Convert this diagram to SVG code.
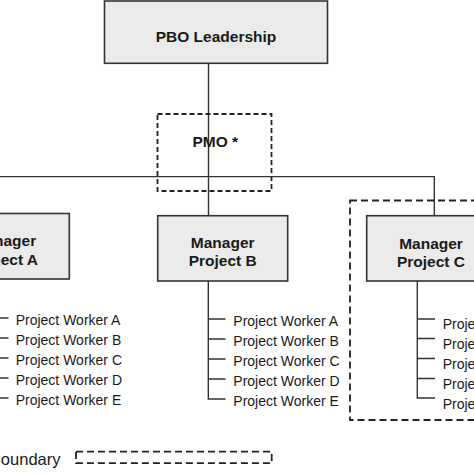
<svg xmlns="http://www.w3.org/2000/svg" width="474" height="474" viewBox="0 0 474 474">
<style>
.box{fill:#ebebeb;stroke:#333;stroke-width:1.6}
.dash{fill:none;stroke:#222;stroke-width:1.8}
.ln{stroke:#333;stroke-width:1.4;fill:none}
.tl{font-family:"Liberation Sans",Arial,sans-serif;font-weight:bold;font-size:15.5px;fill:#1a1a1a;text-anchor:middle}
.wk{font-family:"Liberation Sans",Arial,sans-serif;font-size:14px;fill:#1a1a1a}
</style>
<rect width="474" height="474" fill="#fff"/>
<g id="connectors">
<path class="ln" d="M208.5 63.3V215.7M0 176.6H434.3V215.7"/>
<path class="ln" d="M-10 318H8.5M-10 338H8.5M-10 358H8.5M-10 378H8.5M-10 398H8.5"/>
<path class="ln" d="M208.3 281V399H225.5M208.3 319H225.5M208.3 339H225.5M208.3 359H225.5M208.3 379H225.5"/>
<path class="ln" d="M417.3 281V398H435M417.3 319H435M417.3 338.5H435M417.3 358.5H435M417.3 378.5H435"/>
</g>
<g id="boundary-c"><rect class="dash" x="350" y="200.5" width="200" height="219.5" stroke-dasharray="7 4" stroke-width="2"/></g>
<g id="pbo-leadership">
<rect class="box" x="104.5" y="1" width="223" height="62.3"/>
<text class="tl" x="216" y="42.3">PBO Leadership</text>
</g>
<g id="pmo">
<rect class="dash" x="157.5" y="114" width="114" height="77" stroke-dasharray="5 3"/>
<text class="tl" x="215.3" y="146.7">PMO *</text>
</g>
<g id="manager-a">
<rect class="box" x="-61" y="213.5" width="130.3" height="65.5"/>
<text class="tl" x="4.3" y="246">Manager</text>
<text class="tl" x="4.3" y="264.5">Project A</text>
</g>
<g id="manager-b">
<rect class="box" x="157.7" y="215.7" width="130" height="65.3"/>
<text class="tl" x="222.7" y="247.5">Manager</text>
<text class="tl" x="222.7" y="265.5">Project B</text>
</g>
<g id="manager-c">
<rect class="box" x="366.7" y="215.7" width="130" height="65.3"/>
<text class="tl" x="431" y="248.5">Manager</text>
<text class="tl" x="431" y="266.5">Project C</text>
</g>
<g id="workers-a">
<text class="wk" x="15.7" y="324.5">Project Worker A</text>
<text class="wk" x="15.7" y="344.5">Project Worker B</text>
<text class="wk" x="15.7" y="364.5">Project Worker C</text>
<text class="wk" x="15.7" y="384.5">Project Worker D</text>
<text class="wk" x="15.7" y="404.5">Project Worker E</text>
</g>
<g id="workers-b">
<text class="wk" x="233.3" y="326">Project Worker A</text>
<text class="wk" x="233.3" y="346">Project Worker B</text>
<text class="wk" x="233.3" y="366">Project Worker C</text>
<text class="wk" x="233.3" y="386">Project Worker D</text>
<text class="wk" x="233.3" y="406">Project Worker E</text>
</g>
<g id="workers-c">
<text class="wk" x="442.7" y="328.5">Project Worker A</text>
<text class="wk" x="442.7" y="348.5">Project Worker B</text>
<text class="wk" x="442.7" y="368.5">Project Worker C</text>
<text class="wk" x="442.7" y="388.5">Project Worker D</text>
<text class="wk" x="442.7" y="408.5">Project Worker E</text>
</g>
<g id="legend">
<text class="wk" x="60.5" y="465" style="font-size:16.5px;text-anchor:end">Boundary</text>
<rect class="dash" x="76" y="451.7" width="195.7" height="11.5" stroke-dasharray="7 4"/>
</g>
</svg>
